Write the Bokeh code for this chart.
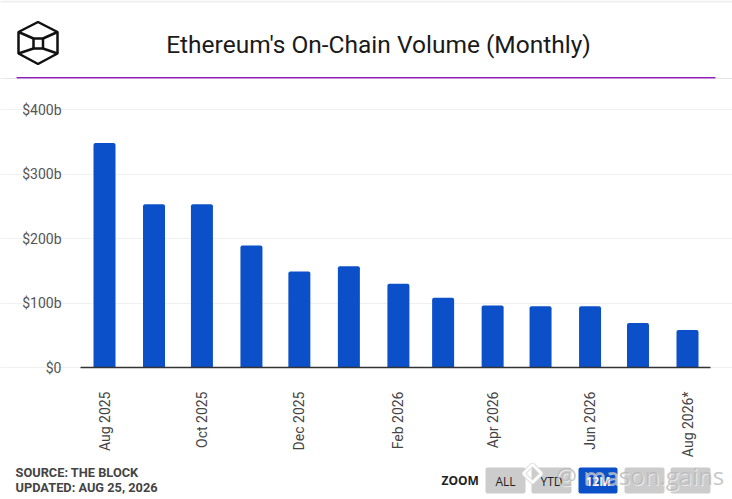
import math
from datetime import datetime
from bokeh.plotting import figure
from bokeh.models import (Range1d, FixedTicker, Label, BoxAnnotation, PolyAnnotation, ColumnDataSource)
from bokeh.embed import file_html
from bokeh.resources import INLINE

months = ["2025-08","2025-09","2025-10","2025-11","2025-12","2026-01","2026-02",
          "2026-03","2026-04","2026-05","2026-06","2026-07","2026-08"]
volumes = [348, 253, 253, 189, 149, 157, 130, 108, 96, 95, 95, 69, 58]
x_tick_labels = {"2025-08":"Aug 2025","2025-10":"Oct 2025","2025-12":"Dec 2025",
                 "2026-02":"Feb 2026","2026-04":"Apr 2026","2026-06":"Jun 2026","2026-08":"Aug 2026*"}
y_ticks = [0, 100, 200, 300, 400]
y_tick_labels = ["$0", "$100b", "$200b", "$300b", "$400b"]
title = "Ethereum's On-Chain Volume (Monthly)"
zoom_buttons = ["ALL", "YTD", "12M", "", ""]

def ms(m):
    return (datetime.strptime(m, "%Y-%m") - datetime(1970, 1, 1)).total_seconds() * 1000.0
xs = [ms(m) for m in months]

W, H = 732, 499
PX_PER_MS = (687 - 104) / (xs[-1] - xs[0])
PX_PER_UNIT = (367 - 109) / 400.0
def x_at(px):
    return xs[0] + (px - 104) / PX_PER_MS

p = figure(width=W, height=H, output_backend="svg", toolbar_location=None,
           x_range=Range1d(x_at(0), x_at(W)),
           y_range=Range1d(-(H - 367) / PX_PER_UNIT, 367 / PX_PER_UNIT),
           min_border_left=0, min_border_right=0, min_border_top=0, min_border_bottom=0)
p.outline_line_color = None
p.background_fill_color = "white"
p.border_fill_color = "white"

src = ColumnDataSource(dict(x=xs, top=volumes))
p.vbar(x="x", top="top", bottom=0, width=22 / PX_PER_MS, source=src, fill_color="#0b50c8", line_color=None,
       border_radius=(2, 2, 0, 0))

p.xgrid.visible = False
p.ygrid.grid_line_color = "#f0f0f0"
p.ygrid.grid_line_width = 1
p.ygrid.ticker = FixedTicker(ticks=y_ticks)
p.ygrid.bounds = (x_at(80), x_at(710))

ax = p.xaxis[0]
ax.fixed_location = 0
ax.bounds = (x_at(80), x_at(710))
ax.ticker = FixedTicker(ticks=[ms(m) for m in x_tick_labels])
ax.major_label_overrides = {ms(m): t for m, t in x_tick_labels.items()}
ax.major_label_orientation = math.pi / 2
ax.major_label_standoff = 18
ax.major_label_text_font = "Roboto"
ax.major_label_text_font_size = "14px"
ax.major_label_text_color = "#444444"
ax.axis_line_color = "#333333"
ax.axis_line_width = 1.5
ax.major_tick_line_color = None
ax.minor_tick_line_color = None

ay = p.yaxis[0]
ay.fixed_location = x_at(80)
ay.ticker = FixedTicker(ticks=y_ticks)
ay.major_label_overrides = dict(zip(y_ticks, y_tick_labels))
ay.major_label_standoff = 13
ay.major_label_text_font = "Roboto"
ay.major_label_text_font_size = "14px"
ay.major_label_text_color = "#555555"
ay.axis_line_color = None
ay.major_tick_line_color = None
ay.minor_tick_line_color = None

def text(x, y, t, size, color="#222222", font="Roboto", align="left", style="normal", alpha=1.0):
    p.add_layout(Label(x=x, y=H - y, x_units="screen", y_units="screen", text=t,
                       text_font=font, text_font_size=size, text_color=color, text_align=align,
                       text_baseline="middle", text_font_style=style, text_alpha=alpha))

def box(l, r, t, b, color, radius=0):
    p.add_layout(BoxAnnotation(left=l, right=r, top=H - t, bottom=H - b,
                               left_units="screen", right_units="screen", top_units="screen", bottom_units="screen",
                               fill_color=color, fill_alpha=1.0, line_color=None, border_radius=radius,
                               level="annotation"))

def poly(pts, width=2.5, color="#111111"):
    p.add_layout(PolyAnnotation(xs=[a for a, b in pts], ys=[H - b for a, b in pts],
                                xs_units="screen", ys_units="screen", fill_alpha=0,
                                line_color=color, line_alpha=1.0, line_width=width, level="annotation"))

# header
box(0, W, 0, 2, "#eeeeee")
text(378, 44, title, "24.5px", color="#1a1a1a", align="center")
box(16, 715, 76.5, 78, "#8f1fb5")
box(0, 16, 77.5, 78.5, "#e6e6e6")
box(715, W, 77.5, 78.5, "#e6e6e6")

# logo
poly([(37.5, 21.5), (57, 31.5), (57, 53), (37.5, 63.5), (18, 53), (18, 31.5)])
poly([(33, 38), (42.5, 38), (42.5, 48), (33, 48)])
poly([(18, 31.5), (33, 38)]); poly([(57, 31.5), (42.5, 38)])
poly([(18, 53), (33, 48)]); poly([(57, 53), (42.5, 48)])

# footer
text(15, 471.5, "SOURCE: THE BLOCK", "12.8px", color="#444444", style="bold")
text(15, 486.5, "UPDATED: AUG 25, 2026", "12.8px", color="#444444", style="bold")
text(441, 479.5, "ZOOM", "12px", color="#222222", font="Open Sans", style="bold")

for (l, r), t in zip([(485, 525), (531, 571), (578, 617), (624, 664), (670, 710)], zoom_buttons):
    active = t == "12M"
    box(l, r, 467, 493, "#0b50c8" if active else "#cccccc", 2)
    if t:
        text((l + r) / 2, 480.5, t, "12px", color="white" if active else "#222222", font="Open Sans",
             align="center", style="bold" if active else "normal")

# watermark
poly([(532, 464), (541, 473), (532, 482), (523, 473)], 4.5, "#d8d8d8")
poly([(532, 464), (541, 473), (532, 482), (523, 473)], 2.5, "#ffffff")
text(556, 476, "@ mason.gains", "24px", color="#ffffff", font="Open Sans", alpha=0.6)
text(555, 475, "@ mason.gains", "24px", color="#b8b8b8", font="Open Sans", alpha=0.8)

open("out.html", "w").write(file_html(p, INLINE))
